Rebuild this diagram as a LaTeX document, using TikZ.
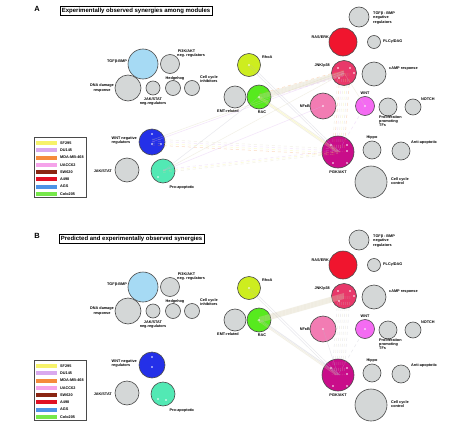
\documentclass[tikz,border=0pt]{standalone}
\usepackage{fontspec}
\setmainfont{Liberation Sans}
\definecolor{modgrey}{HTML}{D4D7D7}
\definecolor{modborder}{HTML}{4A4A4A}
\definecolor{tgfblue}{HTML}{A6DAF4}
\definecolor{rasred}{HTML}{F0152E}
\definecolor{rhoagreen}{HTML}{CDED1F}
\definecolor{jnkpink}{HTML}{E8386A}
\definecolor{racgreen}{HTML}{57EA1E}
\definecolor{nfkbpink}{HTML}{F27CB3}
\definecolor{wntmag}{HTML}{F46BF2}
\definecolor{pimag}{HTML}{C90D8A}
\definecolor{wnegblue}{HTML}{2430E8}
\definecolor{proteal}{HTML}{52E9B4}
\definecolor{lsf}{HTML}{F6F26A}
\definecolor{ldu}{HTML}{D9A9EE}
\definecolor{lmda}{HTML}{F58B3C}
\definecolor{luacc}{HTML}{F5A3EA}
\definecolor{lsw}{HTML}{8A2512}
\definecolor{la}{HTML}{E01024}
\definecolor{lags}{HTML}{4C93E6}
\definecolor{lcolo}{HTML}{76E84A}
\definecolor{edgetan}{HTML}{D8CFB0}
\definecolor{edgegrey}{HTML}{B8B8C8}
\tikzset{
  mod/.style={circle, draw=modborder, line width=0.6pt, inner sep=0pt, fill=modgrey},
  lbl/.style={font=\fontsize{3.8}{4.2}\selectfont\bfseries, inner sep=0pt, align=left},
  lblc/.style={lbl, align=center},
  wdot/.style={circle, fill=white, inner sep=0pt, minimum size=1.7pt},
  edge/.style={line width=0.5pt, opacity=0.32},
  titlebox/.style={draw, line width=0.6pt, inner sep=1.6pt, anchor=west, font=\fontsize{6}{6.5}\selectfont\bfseries},
  letter/.style={font=\fontsize{7.5}{8}\selectfont\bfseries, inner sep=0pt},
  swatch/.style={inner sep=0pt, minimum width=21pt, minimum height=4pt, anchor=west}
}
\newcommand\drawmodules[1]{%
  % circles
  \node[mod, minimum size=30pt, fill=tgfblue] (#1tgf) at (143,64) {};
  \node[mod, minimum size=19pt] (#1pineg) at (170,64) {};
  \node[mod, minimum size=26pt] (#1dna) at (128,88) {};
  \node[mod, minimum size=14pt] (#1jakneg) at (153,88) {};
  \node[mod, minimum size=15pt] (#1hh) at (173,88) {};
  \node[mod, minimum size=15pt] (#1cci) at (192,88) {};
  \node[mod, minimum size=20pt] (#1tgfneg) at (359,17) {};
  \node[mod, minimum size=28pt, fill=rasred] (#1ras) at (343,42) {};
  \node[mod, minimum size=13pt] (#1plc) at (374,42) {};
  \node[mod, minimum size=23pt, fill=rhoagreen] (#1rhoa) at (249,65) {};
  \node[mod, minimum size=25pt, fill=jnkpink] (#1jnk) at (344,73) {};
  \node[mod, minimum size=24pt] (#1camp) at (374,74) {};
  \node[mod, minimum size=22pt] (#1emt) at (235,97) {};
  \node[mod, minimum size=24pt, fill=racgreen] (#1rac) at (259,97) {};
  \node[mod, minimum size=26pt, fill=nfkbpink] (#1nfkb) at (323,106) {};
  \node[mod, minimum size=19pt, fill=wntmag] (#1wnt) at (365,106) {};
  \node[mod, minimum size=18pt] (#1prolif) at (388,107) {};
  \node[mod, minimum size=16pt] (#1notch) at (413,107) {};
  \node[mod, minimum size=32pt, fill=pimag] (#1pi) at (338,152) {};
  \node[mod, minimum size=18pt] (#1hippo) at (372,150) {};
  \node[mod, minimum size=18pt] (#1anti) at (401,151) {};
  \node[mod, minimum size=32pt] (#1ccc) at (371,182) {};
  \node[mod, minimum size=26pt, fill=wnegblue] (#1wneg) at (152,142) {};
  \node[mod, minimum size=24pt] (#1jak) at (127,170) {};
  \node[mod, minimum size=24pt, fill=proteal] (#1pro) at (163,171) {};
  % labels
  \node[lbl, anchor=east] (#1tgf-l) at (127,62) {TGFβ-BMP};
  \node[lbl, anchor=west] (#1pineg-l) at (177,53.5) {\,PI3K/AKT\\neg. regulators};
  \node[lblc, anchor=east] (#1dna-l) at (114,88) {DNA damage\\response};
  \node[lblc] (#1hh-l) at (175,78.5) {Hedgehog};
  \node[lbl, anchor=west] (#1cci-l) at (200,79) {Cell cycle\\inhibitors};
  \node[lblc] (#1jakneg-l) at (153,101.5) {JAK/STAT\\neg.regulators};
  \node[lbl, anchor=west] (#1tgfneg-l) at (373,18) {TGFβ - BMP\\negative\\regulators};
  \node[lbl, anchor=east] (#1ras-l) at (329,37) {RAS/ERK};
  \node[lbl, anchor=west] (#1plc-l) at (383,42) {PLCγ/DAG};
  \node[lbl, anchor=west] (#1rhoa-l) at (262,57) {RhoA};
  \node[lbl, anchor=east] (#1jnk-l) at (330,66) {JNK/p38};
  \node[lbl, anchor=west] (#1camp-l) at (389,69) {cAMP response};
  \node[lblc] (#1emt-l) at (228,111.5) {EMT-related};
  \node[lblc] (#1rac-l) at (262,112.5) {RAC};
  \node[lbl, anchor=east] (#1nfkb-l) at (310,106) {NFκB};
  \node[lblc] (#1wnt-l) at (365,93.5) {WNT};
  \node[lbl, anchor=north west] (#1prolif-l) at (379,115.5) {Proliferation\\promoting\\TFs};
  \node[lbl, anchor=west] (#1notch-l) at (421,99) {NOTCH};
  \node[lblc] (#1pi-l) at (338,172.5) {PI3K/AKT};
  \node[lblc] (#1hippo-l) at (372,138) {Hippo};
  \node[lbl, anchor=west] (#1anti-l) at (411,143) {Anti-apoptotic};
  \node[lbl, anchor=west] (#1ccc-l) at (391,181) {Cell cycle\\control};
  \node[lbl, anchor=east] (#1wneg-l) at (137,140.5) {WNT negative\\regulators};
  \node[lbl, anchor=east] (#1jak-l) at (112,171) {JAK/STAT};
  \node[lblc] (#1pro-l) at (182,187.5) {Pro-apoptotic};
  % legend
  \draw[line width=0.6pt, draw=modborder] (34,137) rectangle (86,197);
  \foreach \n/\y/\c/\t in {sf/143.3/lsf/SF295, du/150.3/ldu/DU145, mda/157.5/lmda/MDA-MB-468, uacc/164.7/luacc/UACC62, sw/171.8/lsw/SW620, aa/179.2/la/A498, ags/186.6/lags/AGS, colo/193.8/lcolo/Colo205}{
    \node[swatch, fill=\c] (#1leg\n) at (36,\y) {};
    \node[lbl, anchor=west] (#1leg\n-l) at (60,\y) {\t};
  }
}
\newcommand\drawdots[1]{%
  \node[wdot] at (#1rhoa.center) {};
  \node[wdot] at (#1rac.center) {};
  \node[wdot] at (#1nfkb.center) {};
  \node[wdot] at (#1wnt.center) {};
  \foreach \dx/\dy in {-6/-5, 6/-5, 10/0, -5/5}
    \node[wdot] at ([shift={(\dx pt,-\dy pt)}]#1jnk.center) {};
  \foreach \dx/\dy in {-7/-7, 9/-7, 9/-1, -5/11, 9/11}
    \node[wdot] at ([shift={(\dx pt,-\dy pt)}]#1pi.center) {};
  \foreach \dx/\dy in {0/-8, 0/2}
    \node[wdot] at ([shift={(\dx pt,-\dy pt)}]#1wneg.center) {};
}
\begin{document}
\begin{tikzpicture}[x=1pt,y=-1pt]
\useasboundingbox[fill=white] (0,0) rectangle (474,431);
% ---------- Panel A ----------
\node[letter] (alet) at (37,9) {A};
\node[titlebox] (atitle) at (60,11) {Experimentally observed synergies among modules};
\drawmodules{a}
% edges A
\foreach \s in {-2,-1,0,1,2}
  \draw[edge, edgetan, line width=0.9pt] ([yshift=\s pt]arac.center) -- ([yshift=\s pt]ajnk.center);
\draw[edge, lmda, dashed] ([yshift=3pt]arac.center) -- ([yshift=3pt]ajnk.center);
\draw[edge, ldu, dashed] ([yshift=-3pt]arac.center) -- ([yshift=-3pt]ajnk.center);
\foreach \s in {-1.5,1.5}
  \draw[edge, edgegrey] ([xshift=\s pt]arhoa.center) -- ([xshift=\s pt]api.center);
\foreach \s/\c in {-2/edgetan, 0/lsf, 2/edgetan}
  \draw[edge, \c, line width=0.8pt] ([xshift=\s pt]arac.center) -- ([xshift=\s pt]api.center);
\foreach \s/\c in {-6/edgetan, -4/lmda, -2/ldu, 0/edgetan, 2/lsf, 4/edgegrey, 6/lmda}
  \draw[edge, \c, dashed] ([xshift=\s pt]ajnk.center) -- ([xshift=\s pt]api.center);
\draw[edge, ldu, dashed] (awnt.center) -- (api.center);
\draw[edge, edgetan] (awnt.center) -- (ajnk.center);
\foreach \s/\c in {-3/lmda, -1/lsf, 1/ldu, 3/edgetan}
  \draw[edge, \c, dashed] ([yshift=\s pt]awneg.center) -- ([yshift=\s pt]api.center);
\draw[edge, ldu] (awneg.center) -- (ajnk.center);
\draw[edge, edgetan] ([yshift=2pt]awneg.center) -- ([yshift=2pt]ajnk.center);
\foreach \s/\c in {-1.5/edgetan, 0/lsf, 1.5/ldu}
  \draw[edge, \c, dashed] ([yshift=\s pt]apro.center) -- ([yshift=\s pt]api.center);
\draw[edge, edgetan] (apro.center) -- (ajnk.center);
\draw[edge, ldu] (apro.center) -- (anfkb.center);
\draw[edge, edgegrey] (apro.center) -- (arac.center);
\drawdots{a}
\node[wdot] at ([shift={(9pt,-2pt)}]awneg.center) {};
\node[wdot] at ([shift={(-5pt,-6pt)}]apro.center) {};
% ---------- Panel B ----------
\node[letter] (blet) at (37,236) {B};
\node[titlebox] (btitle) at (59,239) {Predicted and experimentally observed synergies};
\begin{scope}[yshift=-223pt]
\drawmodules{b}
\end{scope}
% edges B
\foreach \s in {-2.5,-1.5,-0.5,0.5,1.5,2.5}
  \draw[edge, edgetan, line width=1pt] ([yshift=\s pt]brac.center) -- ([yshift=\s pt]bjnk.center);
\foreach \s in {-1.5,1.5}
  \draw[edge, edgegrey] ([xshift=\s pt]brhoa.center) -- ([xshift=\s pt]bpi.center);
\foreach \s/\c in {-2/edgetan, 0/edgetan, 2/edgegrey}
  \draw[edge, \c, line width=0.8pt] ([xshift=\s pt]brac.center) -- ([xshift=\s pt]bpi.center);
\foreach \s/\c in {-6/edgegrey, -4/edgetan, -2/edgegrey, 0/edgetan, 2/edgegrey, 4/edgetan, 6/edgegrey}
  \draw[edge, \c, dashed] ([xshift=\s pt]bjnk.center) -- ([xshift=\s pt]bpi.center);
\draw[edge, edgegrey] (bnfkb.center) -- (bpi.center);
\draw[edge, edgegrey, dashed] (bwnt.center) -- (bpi.center);
\drawdots{b}
\foreach \dx/\dy in {-5/5, 3/6}
  \node[wdot] at ([shift={(\dx pt,-\dy pt)}]bpro.center) {};
\end{tikzpicture}
\end{document}
